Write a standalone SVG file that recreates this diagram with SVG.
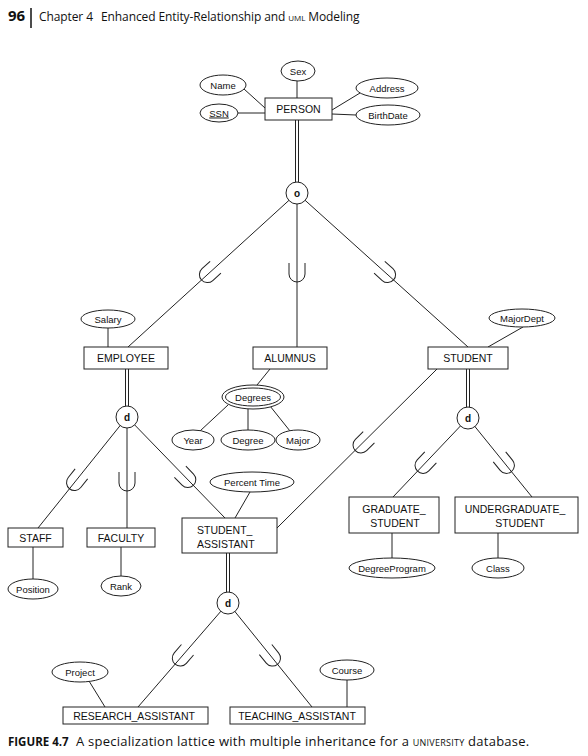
<svg xmlns="http://www.w3.org/2000/svg" width="588" height="756" viewBox="0 0 588 756">
<style>
.ent rect{fill:#fff;stroke:#222;stroke-width:1}
.ent text{font-family:"Liberation Sans",Arial,sans-serif;font-size:10.5px;fill:#111;text-anchor:middle}
.attr ellipse{fill:#fff;stroke:#222;stroke-width:1}
.attr text{font-family:"Liberation Sans",Arial,sans-serif;font-size:9.5px;fill:#111;text-anchor:middle}
.conn line{stroke:#222;stroke-width:1}
.sub{fill:none;stroke:#222;stroke-width:1}
.circ circle{fill:#fff;stroke:#222;stroke-width:1}
.circ text{font-family:"Liberation Sans",Arial,sans-serif;font-weight:bold;font-size:10px;fill:#111;text-anchor:middle}
.book{font-family:"Open Sans","DejaVu Sans",sans-serif;fill:#111}
.sc{font-variant-caps:all-small-caps}
</style>
<defs>
<path id="u" class="sub" d="M -8 -11 V 0 A 8 8 0 0 0 8 0 V -11"/>
</defs>

<g id="header">
<text class="book" x="8" y="21" font-size="15" font-weight="bold">96</text>
<line x1="31" y1="8" x2="31" y2="28" stroke="#111" stroke-width="1.5"/>
<text class="book" x="39" y="21" font-size="12" letter-spacing="-0.1">Chapter 4</text>
<text class="book" x="101" y="21" font-size="12" letter-spacing="-0.1">Enhanced Entity-Relationship and <tspan class="sc">UML</tspan> Modeling</text>
</g>

<g id="connectors" class="conn">
<line x1="295.5" y1="120" x2="295.5" y2="182"/>
<line x1="298.5" y1="120" x2="298.5" y2="182"/>
<line x1="297" y1="193" x2="128" y2="347"/>
<line x1="297" y1="193" x2="297" y2="347"/>
<line x1="297" y1="193" x2="468" y2="347"/>
<line x1="125.5" y1="369" x2="125.5" y2="406"/>
<line x1="128.5" y1="369" x2="128.5" y2="406"/>
<line x1="127" y1="417" x2="38" y2="528"/>
<line x1="127" y1="417" x2="127" y2="528"/>
<line x1="127" y1="417" x2="225" y2="518"/>
<line x1="437" y1="369" x2="277" y2="528"/>
<line x1="466.5" y1="369" x2="466.5" y2="407"/>
<line x1="469.5" y1="369" x2="469.5" y2="407"/>
<line x1="468" y1="418" x2="393" y2="497"/>
<line x1="468" y1="418" x2="532" y2="497"/>
<line x1="226.5" y1="553" x2="226.5" y2="592"/>
<line x1="229.5" y1="553" x2="229.5" y2="592"/>
<line x1="228" y1="603" x2="138" y2="707"/>
<line x1="228" y1="603" x2="312" y2="707"/>
<!-- attribute links -->
<line x1="297" y1="81" x2="297" y2="98"/>
<line x1="244" y1="89" x2="265" y2="108"/>
<line x1="238" y1="113" x2="265" y2="113"/>
<line x1="360" y1="93" x2="332" y2="110"/>
<line x1="332" y1="114" x2="356" y2="115"/>
<line x1="108" y1="328" x2="108" y2="347"/>
<line x1="523" y1="327" x2="488" y2="347"/>
<line x1="270" y1="369" x2="257" y2="385"/>
<line x1="228" y1="405" x2="200" y2="431"/>
<line x1="248" y1="409" x2="248" y2="430"/>
<line x1="270" y1="406" x2="290" y2="431"/>
<line x1="250" y1="492" x2="235" y2="518"/>
<line x1="33" y1="547" x2="33" y2="579"/>
<line x1="121" y1="547" x2="121" y2="576"/>
<line x1="392" y1="533" x2="392" y2="558"/>
<line x1="498" y1="533" x2="498" y2="558"/>
<line x1="89" y1="681" x2="105" y2="707"/>
<line x1="347" y1="680" x2="347" y2="707"/>
<!-- subset symbols -->
<use href="#u" transform="translate(207.4,274.6) rotate(47.66)"/>
<use href="#u" transform="translate(297,274)"/>
<use href="#u" transform="translate(387.6,274.6) rotate(-47.99)"/>
<use href="#u" transform="translate(74.5,482.5) rotate(38.72)"/>
<use href="#u" transform="translate(127,483)"/>
<use href="#u" transform="translate(187.8,479.6) rotate(-44.14)"/>
<use href="#u" transform="translate(361,445) rotate(45.36)"/>
<use href="#u" transform="translate(423,465.4) rotate(43.5)"/>
<use href="#u" transform="translate(506.4,465.4) rotate(-39)"/>
<use href="#u" transform="translate(180.3,658.1) rotate(40.87)"/>
<use href="#u" transform="translate(272.5,658.1) rotate(-38.93)"/>
</g>

<g id="PERSON" class="ent"><rect x="265" y="98" width="67" height="22"/><text x="298.5" y="113">PERSON</text></g>
<g id="EMPLOYEE" class="ent"><rect x="84" y="347" width="84" height="22"/><text x="126" y="362">EMPLOYEE</text></g>
<g id="ALUMNUS" class="ent"><rect x="253" y="347" width="74" height="22"/><text x="290" y="362">ALUMNUS</text></g>
<g id="STUDENT" class="ent"><rect x="428" y="347" width="80" height="22"/><text x="468" y="362">STUDENT</text></g>
<g id="STAFF" class="ent"><rect x="8" y="528" width="55" height="19"/><text x="35.5" y="541.5">STAFF</text></g>
<g id="FACULTY" class="ent"><rect x="87" y="528" width="68" height="19"/><text x="121" y="541.5">FACULTY</text></g>
<g id="STUDENT_ASSISTANT" class="ent"><rect x="182" y="518" width="95" height="35"/><text x="197" y="534" style="text-anchor:start">STUDENT_</text><text x="197" y="548" style="text-anchor:start">ASSISTANT</text></g>
<g id="GRADUATE_STUDENT" class="ent"><rect x="349" y="497" width="90" height="36"/><text x="394" y="513">GRADUATE_</text><text x="395" y="527">STUDENT</text></g>
<g id="UNDERGRADUATE_STUDENT" class="ent"><rect x="455" y="497" width="123" height="36"/><text x="515" y="513">UNDERGRADUATE_</text><text x="520" y="527">STUDENT</text></g>
<g id="RESEARCH_ASSISTANT" class="ent"><rect x="63" y="707" width="145" height="17"/><text x="134" y="719.5">RESEARCH_ASSISTANT</text></g>
<g id="TEACHING_ASSISTANT" class="ent"><rect x="230" y="707" width="135" height="17"/><text x="297" y="719.5">TEACHING_ASSISTANT</text></g>

<g id="circle_o" class="circ"><circle cx="297" cy="193" r="11"/><text x="297" y="197">o</text></g>
<g id="circle_d_employee" class="circ"><circle cx="127" cy="417" r="11"/><text x="127" y="421">d</text></g>
<g id="circle_d_student" class="circ"><circle cx="468" cy="418" r="11"/><text x="468" y="422">d</text></g>
<g id="circle_d_sa" class="circ"><circle cx="228" cy="603" r="11"/><text x="228" y="607">d</text></g>

<g id="Sex" class="attr"><ellipse cx="298" cy="71" rx="17" ry="10"/><text x="298" y="74.5">Sex</text></g>
<g id="Name" class="attr"><ellipse cx="223" cy="85" rx="23" ry="10"/><text x="223" y="88.5">Name</text></g>
<g id="SSN" class="attr"><ellipse cx="219" cy="113" rx="19" ry="9"/><text x="219" y="116.5" text-decoration="underline">SSN</text></g>
<g id="Address" class="attr"><ellipse cx="387" cy="88" rx="31" ry="10"/><text x="387" y="91.5">Address</text></g>
<g id="BirthDate" class="attr"><ellipse cx="388" cy="115" rx="32" ry="10"/><text x="388" y="118.5">BirthDate</text></g>
<g id="Salary" class="attr"><ellipse cx="108" cy="319" rx="27" ry="9"/><text x="108" y="322.5">Salary</text></g>
<g id="MajorDept" class="attr"><ellipse cx="522" cy="318" rx="33" ry="9"/><text x="522" y="321.5">MajorDept</text></g>
<g id="Degrees" class="attr"><ellipse cx="253" cy="397" rx="31" ry="12"/><ellipse cx="253" cy="397" rx="27.5" ry="9"/><text x="253" y="400.5">Degrees</text></g>
<g id="Year" class="attr"><ellipse cx="193" cy="440" rx="21" ry="10"/><text x="193" y="443.5">Year</text></g>
<g id="Degree" class="attr"><ellipse cx="248" cy="440" rx="27" ry="10"/><text x="248" y="443.5">Degree</text></g>
<g id="Major" class="attr"><ellipse cx="298" cy="440" rx="22" ry="10"/><text x="298" y="443.5">Major</text></g>
<g id="PercentTime" class="attr"><ellipse cx="252" cy="482" rx="42" ry="10"/><text x="252" y="485.5">Percent Time</text></g>
<g id="Position" class="attr"><ellipse cx="33" cy="589" rx="25" ry="10"/><text x="33" y="592.5">Position</text></g>
<g id="Rank" class="attr"><ellipse cx="121" cy="586" rx="20" ry="10"/><text x="121" y="589.5">Rank</text></g>
<g id="DegreeProgram" class="attr"><ellipse cx="392" cy="568" rx="43" ry="10"/><text x="392" y="571.5">DegreeProgram</text></g>
<g id="Class" class="attr"><ellipse cx="498" cy="568" rx="26" ry="10"/><text x="498" y="571.5">Class</text></g>
<g id="Project" class="attr"><ellipse cx="80" cy="672" rx="28" ry="10"/><text x="80" y="675.5">Project</text></g>
<g id="Course" class="attr"><ellipse cx="347" cy="670" rx="27" ry="10"/><text x="347" y="673.5">Course</text></g>

<g id="caption">
<text class="book" x="8" y="746" font-size="11.5" font-weight="bold">FIGURE 4.7</text>
<text class="book" x="76" y="746" font-size="13" letter-spacing="0.25">A specialization lattice with multiple inheritance for a <tspan class="sc">UNIVERSITY</tspan> database.</text>
</g>
</svg>
